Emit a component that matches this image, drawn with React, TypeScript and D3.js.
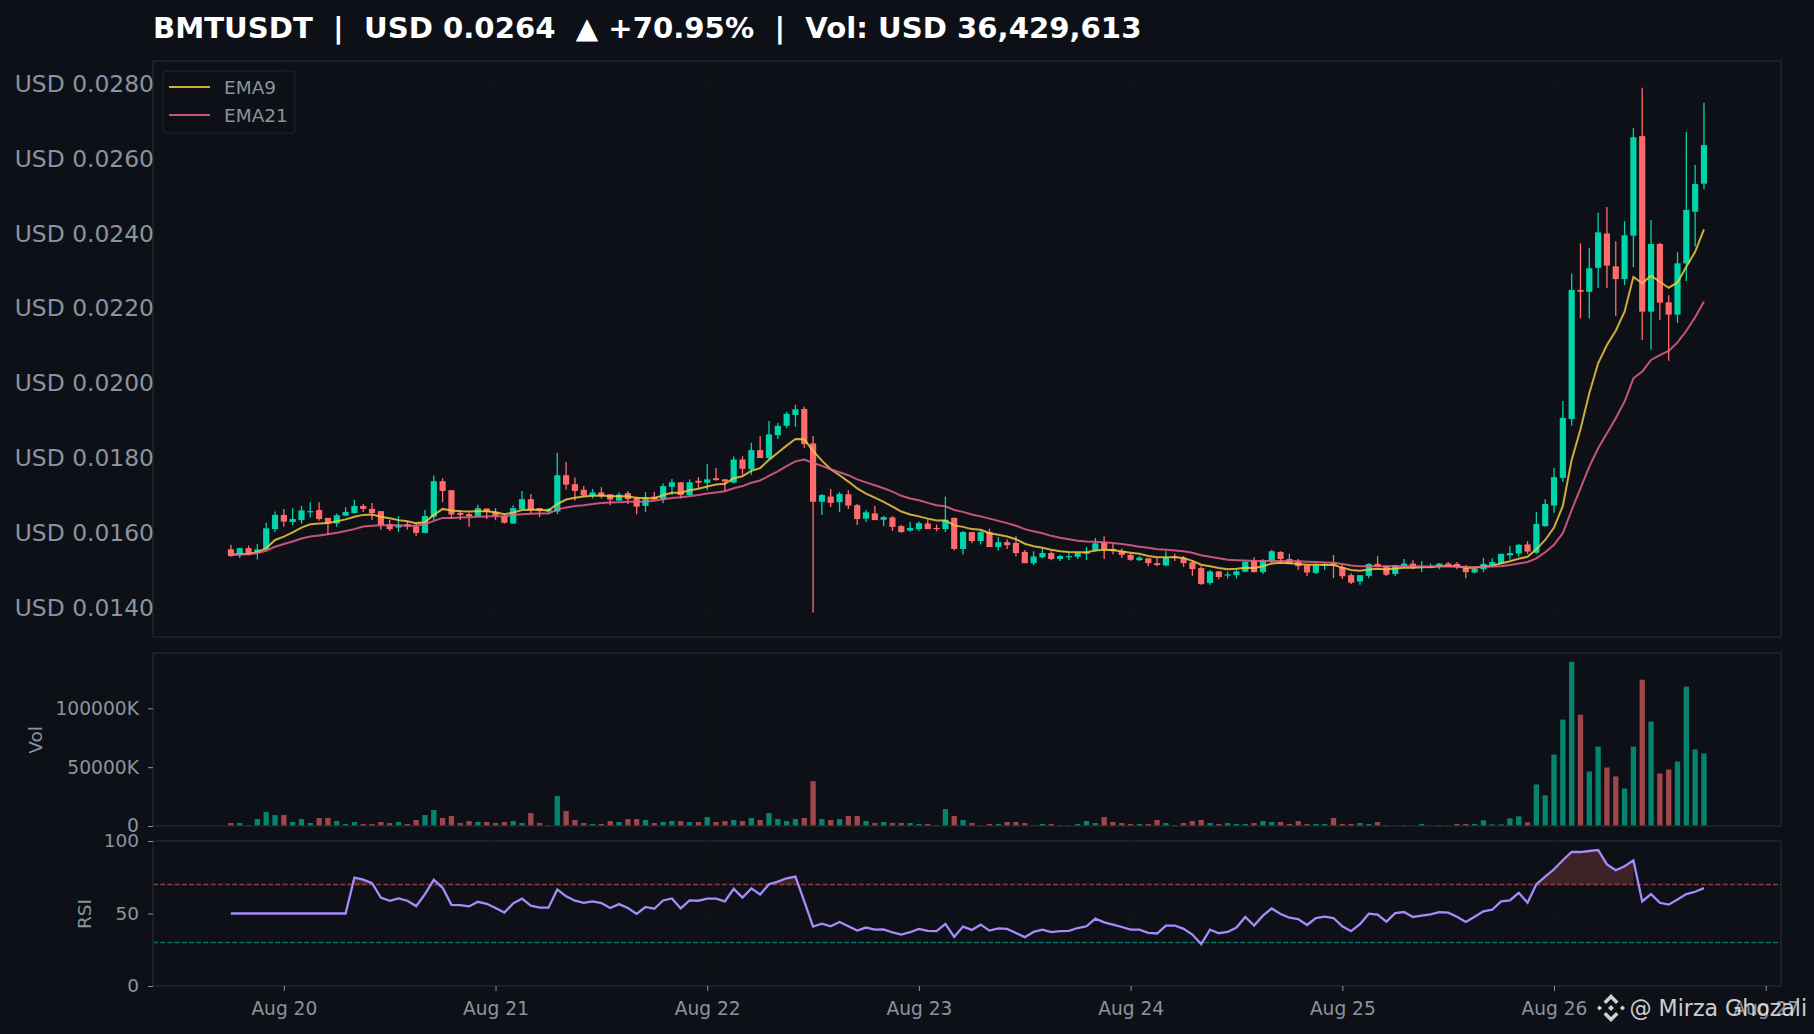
import { useEffect, useRef } from "react";
import * as d3 from "d3";

const FONT = "DejaVu Sans";
const BG = "#0d1117";
const SPINE = "#21262d";
const GRID = "#12171e";
const MUTED = "#8b949e";
const UP = "#00d4aa";
const DOWN = "#ff6b6b";

// first candle is Aug 19 18:00, one candle per hour
const START = Date.UTC(2025, 7, 19, 18);
const HOUR = 3600000;

const dayTicks = ["2025-08-20", "2025-08-21", "2025-08-22", "2025-08-23", "2025-08-24", "2025-08-25", "2025-08-26", "2025-08-27"];
const priceTicks = [0.014, 0.016, 0.018, 0.02, 0.022, 0.024, 0.026, 0.028];
const volTicks = [0, 50000, 100000];
const rsiTicks = [0, 50, 100];

// prices, in 1e-5 USD
const opens = [
  1558,1543,1561,1549,1559,1612,1650,1631,1636,1658,
  1663,1642,1627,1648,1655,1674,1666,1660,1625,1616,
  1625,1619,1602,1645,1740,1716,1655,1652,1647,1667,
  1658,1647,1627,1665,1692,1668,1659,1659,1756,1732,
  1717,1703,1710,1705,1688,1708,1694,1674,1699,1692,
  1725,1737,1703,1741,1736,1748,1745,1736,1798,1772,
  1823,1802,1863,1888,1917,1933,1841,1685,1699,1684,
  1705,1676,1640,1654,1637,1643,1620,1608,1612,1627,
  1615,1612,1642,1559,1604,1580,1604,1564,1577,1575,
  1551,1521,1537,1548,1532,1538,1538,1546,1556,1576,
  1559,1554,1543,1529,1534,1521,1515,1540,1535,1523,
  1508,1468,1499,1488,1489,1498,1527,1497,1527,1551,
  1532,1527,1515,1495,1516,1521,1510,1489,1472,1487,
  1519,1513,1492,1513,1520,1509,1508,1513,1520,1519,
  1511,1496,1505,1516,1521,1542,1547,1571,1549,1620,
  1675,1749,1906,2251,2246,2310,2402,2314,2280,2396,
  2662,2193,2374,2218,2185,2322,2460,2535,
];
const closes = [
  1540,1561,1545,1558,1614,1650,1632,1639,1662,1660,
  1639,1627,1649,1658,1674,1666,1655,1623,1612,1621,
  1619,1602,1647,1740,1714,1651,1650,1647,1668,1658,
  1648,1629,1668,1692,1663,1660,1665,1756,1731,1714,
  1702,1710,1701,1691,1704,1692,1672,1694,1692,1727,
  1737,1703,1737,1736,1745,1743,1739,1798,1773,1823,
  1802,1865,1888,1920,1932,1839,1685,1703,1682,1706,
  1675,1639,1657,1636,1644,1618,1604,1615,1628,1612,
  1612,1637,1559,1604,1580,1604,1564,1577,1569,1548,
  1521,1539,1548,1532,1540,1540,1548,1551,1574,1559,
  1553,1543,1530,1536,1521,1516,1536,1536,1521,1505,
  1465,1499,1484,1491,1499,1525,1497,1527,1553,1532,
  1519,1513,1496,1516,1519,1516,1486,1469,1489,1519,
  1511,1490,1515,1520,1508,1511,1511,1520,1513,1510,
  1497,1506,1519,1524,1546,1548,1570,1552,1626,1679,
  1751,1909,2251,2246,2309,2405,2316,2280,2397,2659,
  2193,2374,2217,2185,2322,2465,2534,2638,
];
const highs = [
  1570,1562,1568,1572,1629,1659,1666,1668,1674,1684,
  1684,1642,1654,1670,1690,1679,1682,1660,1636,1647,
  1632,1627,1663,1755,1748,1716,1663,1656,1677,1668,
  1668,1650,1676,1714,1706,1668,1668,1816,1791,1750,
  1727,1719,1724,1705,1710,1714,1699,1711,1711,1734,
  1746,1737,1745,1751,1786,1775,1745,1807,1807,1843,
  1861,1901,1896,1925,1944,1939,1861,1706,1719,1711,
  1716,1679,1663,1674,1647,1647,1623,1631,1632,1638,
  1624,1699,1643,1607,1604,1607,1613,1591,1585,1593,
  1556,1553,1559,1553,1543,1549,1552,1564,1588,1593,
  1572,1560,1547,1540,1534,1535,1553,1546,1540,1529,
  1513,1503,1500,1499,1507,1525,1537,1532,1557,1553,
  1546,1532,1517,1521,1522,1543,1516,1494,1489,1521,
  1540,1516,1517,1532,1529,1527,1520,1521,1524,1524,
  1516,1508,1535,1534,1546,1567,1572,1580,1658,1692,
  1775,1954,2294,2376,2363,2457,2473,2381,2435,2684,
  2791,2438,2377,2237,2352,2673,2585,2751,
];
const lows = [
  1538,1535,1542,1531,1556,1604,1618,1623,1627,1643,
  1634,1596,1618,1647,1654,1658,1636,1610,1607,1604,
  1611,1593,1601,1636,1684,1639,1636,1618,1645,1639,
  1636,1627,1626,1665,1652,1644,1656,1652,1718,1688,
  1699,1694,1694,1676,1688,1679,1652,1658,1690,1681,
  1703,1694,1701,1722,1716,1741,1714,1734,1757,1757,
  1802,1800,1853,1882,1885,1829,1389,1650,1671,1658,
  1666,1623,1631,1636,1620,1607,1602,1605,1607,1612,
  1606,1604,1555,1544,1574,1571,1564,1555,1559,1539,
  1521,1516,1534,1529,1527,1529,1532,1529,1552,1532,
  1545,1535,1527,1527,1513,1513,1513,1527,1511,1487,
  1463,1463,1478,1480,1480,1498,1497,1492,1521,1519,
  1519,1503,1487,1492,1503,1481,1479,1465,1463,1481,
  1511,1487,1487,1508,1505,1497,1508,1505,1513,1505,
  1481,1494,1497,1512,1520,1530,1538,1546,1546,1619,
  1656,1738,1888,2175,2175,2256,2256,2181,2264,2312,
  2117,2091,2171,2062,2163,2275,2367,2521,
];
const ema9 = [
  1544,1545,1546,1550,1561,1583,1592,1603,1616,1625,
  1627,1628,1633,1638,1645,1650,1651,1645,1641,1636,
  1633,1628,1630,1650,1666,1662,1660,1659,1660,1660,
  1657,1652,1656,1663,1664,1664,1662,1679,1691,1696,
  1699,1701,1702,1700,1700,1700,1695,1695,1694,1703,
  1709,1709,1716,1720,1726,1731,1733,1748,1753,1768,
  1775,1797,1816,1835,1853,1852,1821,1795,1772,1756,
  1739,1721,1707,1696,1685,1672,1659,1651,1646,1640,
  1635,1635,1622,1618,1612,1610,1601,1597,1592,1585,
  1573,1566,1562,1557,1553,1551,1550,1550,1555,1557,
  1556,1552,1549,1546,1540,1537,1537,1537,1535,1527,
  1517,1513,1508,1505,1506,1509,1508,1513,1520,1522,
  1521,1519,1517,1517,1516,1516,1509,1503,1501,1504,
  1506,1504,1507,1509,1509,1510,1511,1513,1513,1513,
  1509,1509,1512,1514,1520,1526,1533,1538,1558,1583,
  1616,1674,1797,1879,1975,2055,2104,2142,2193,2286,
  2269,2289,2273,2257,2271,2313,2353,2413,
];
const ema21 = [
  1544,1544,1545,1548,1554,1565,1572,1579,1587,1592,
  1595,1598,1602,1607,1612,1619,1621,1622,1622,1622,
  1621,1621,1625,1634,1642,1642,1643,1644,1645,1646,
  1647,1646,1650,1652,1653,1654,1654,1664,1670,1674,
  1676,1679,1682,1683,1684,1685,1685,1686,1688,1692,
  1695,1697,1700,1703,1707,1710,1713,1721,1727,1736,
  1742,1754,1766,1780,1793,1798,1789,1781,1772,1764,
  1756,1745,1737,1729,1721,1712,1701,1694,1689,1682,
  1676,1673,1663,1658,1651,1646,1640,1634,1628,1621,
  1612,1606,1601,1594,1589,1585,1581,1579,1578,1577,
  1575,1572,1569,1565,1562,1558,1557,1555,1553,1549,
  1542,1538,1534,1530,1529,1528,1527,1527,1527,1527,
  1527,1526,1525,1524,1523,1522,1519,1515,1513,1513,
  1513,1513,1513,1513,1513,1512,1512,1513,1513,1512,
  1511,1510,1511,1512,1513,1516,1520,1524,1534,1550,
  1570,1601,1663,1721,1779,1828,1868,1908,1953,2015,
  2033,2064,2077,2088,2111,2142,2178,2220,
];
// volume in thousands
const volumes = [
  2500,2500,850,5900,11900,9300,9300,3400,5900,2500,
  6800,6800,4200,1700,3400,1700,1700,3400,2500,3400,
  1700,5100,9300,13600,6800,8500,2500,4200,3400,3400,
  2500,3400,4200,2500,11000,2500,850,25400,12700,5100,
  2500,1700,1700,4200,3400,5900,5900,5100,2500,3400,
  4200,4200,3400,3400,7600,3400,4200,5100,4200,6800,
  5100,11000,5900,4200,5900,6800,38100,5900,5100,5900,
  8500,8500,4200,2500,3400,2500,2500,2500,1700,1700,
  850,14400,8500,5100,2500,850,1700,1700,3400,3400,
  2500,850,1700,1700,850,850,1700,4200,2500,7600,
  3400,2500,1700,1700,1700,5100,2500,850,2500,4200,
  5100,2500,1700,2500,1700,1700,2500,4200,3400,3400,
  1700,4200,1700,1700,1700,6800,1700,1700,2500,1700,
  3400,850,300,850,300,1700,300,850,300,1700,
  1700,1700,4800,1400,1400,6500,8200,3100,35300,26000,
  60700,90400,139500,94600,46300,67500,49700,42100,31900,67500,
  124300,88700,44600,48000,54800,118400,65000,61600,
];
const rsi = [
  50,50,50,50,50,50,50,50,50,50,
  50,50,50,50,74.8,73.4,70.9,61,58.8,60.4,
  58.8,55.1,63.4,73.2,67.7,56,55.8,54.9,58.1,56.7,
  53.8,50.6,57,60.2,55.4,54,54,66.6,61.8,58.8,
  57.4,58.3,57.2,53.8,56.5,53.8,49.7,54.5,53.3,59,
  60.4,53.5,59,58.8,60.2,60.2,58.3,67,61,67.3,
  63.1,70.2,72,74.3,75.5,58.3,41,43,41.2,44.2,
  41.2,38.2,40.3,38.9,39.1,36.9,35.5,37.1,39.4,38,
  37.8,42.8,33.9,41,38.7,42.3,38.2,39.8,39.4,36.6,
  33.7,37.3,38.9,37.1,37.8,38,40,41.2,46.5,43.9,
  42.3,40.7,38.9,38.9,36.6,36.2,41.7,41.7,39.4,35.5,
  28.9,38.9,36.4,37.3,40.3,47.6,41.7,48.5,53.5,49.7,
  47.1,46.2,42.1,46.9,47.8,46.9,41.2,37.8,42.6,49.9,
  49.2,44.4,50.3,51,47.6,48.5,49.4,51,50.6,47.8,
  44.2,47.8,51.5,52.6,58.3,59,64.3,57.4,70.2,75.5,
  80.5,86.7,92.4,92.4,93.1,93.8,83.9,79.8,82.6,86.7,
  58.3,63.4,57.4,56.1,59.7,63.4,65,67.5,
];

const App = () => {
  const svgRef = useRef<SVGSVGElement | null>(null);

  useEffect(() => {
    drawChart();
  }, []);

  const drawChart = () => {
    const svg = d3.select(svgRef.current);
    svg.selectAll("*").remove();

    const left = 153;
    const right = 1781;
    const main = { top: 61, bottom: 637 };
    const vol = { top: 653, bottom: 826 };
    const osc = { top: 841, bottom: 986 };

    const time = (i: number) => new Date(START + i * HOUR);

    const x = d3
      .scaleUtc()
      .domain([new Date(Date.UTC(2025, 7, 19, 9, 10)), new Date(Date.UTC(2025, 7, 27, 1, 44))])
      .range([left, right]);
    const yPrice = d3.scaleLinear().domain([0.013237, 0.028628]).range([main.bottom, main.top]);
    const yVol = d3.scaleLinear().domain([0, 147000]).range([vol.bottom, vol.top]);
    const yRsi = d3.scaleLinear().domain([0, 100]).range([osc.bottom, osc.top]);

    const bodyW = x(time(0.7)) - x(time(0));
    const barW = x(time(0.6)) - x(time(0));
    const idx = d3.range(opens.length);
    const P = (v: number) => yPrice(v / 1e5);

    svg.append("rect").attr("width", 1814).attr("height", 1034).attr("fill", BG);

    // panel frames and the faint grid
    const days = dayTicks.map((d) => new Date(d + "T00:00:00Z"));
    [main, vol, osc].forEach((p) => {
      svg
        .append("g")
        .selectAll("line")
        .data(days)
        .join("line")
        .attr("x1", (d) => x(d))
        .attr("x2", (d) => x(d))
        .attr("y1", p.top)
        .attr("y2", p.bottom)
        .attr("stroke", GRID)
        .attr("stroke-width", 0.8);
    });
    const hGrid = (ticks: number[], y: any) =>
      svg
        .append("g")
        .selectAll("line")
        .data(ticks)
        .join("line")
        .attr("x1", left)
        .attr("x2", right)
        .attr("y1", (d) => y(d))
        .attr("y2", (d) => y(d))
        .attr("stroke", GRID)
        .attr("stroke-width", 0.8);
    hGrid(priceTicks, yPrice);
    hGrid(volTicks, yVol);
    hGrid(rsiTicks, yRsi);

    // candles
    const candles = svg.append("g");
    candles
      .selectAll("line")
      .data(idx)
      .join("line")
      .attr("x1", (i) => x(time(i)))
      .attr("x2", (i) => x(time(i)))
      .attr("y1", (i) => P(highs[i]))
      .attr("y2", (i) => P(lows[i]))
      .attr("stroke", (i) => (closes[i] >= opens[i] ? UP : DOWN))
      .attr("stroke-width", 1.3);
    candles
      .selectAll("rect")
      .data(idx)
      .join("rect")
      .attr("x", (i) => x(time(i)) - bodyW / 2)
      .attr("width", bodyW)
      .attr("y", (i) => P(Math.max(opens[i], closes[i])))
      .attr("height", (i) => Math.max(1.2, Math.abs(P(opens[i]) - P(closes[i]))))
      .attr("fill", (i) => (closes[i] >= opens[i] ? UP : DOWN));

    // moving averages
    const emaLine = d3
      .line<number>()
      .x((_, i) => x(time(i)))
      .y((d) => P(d));
    svg
      .append("path")
      .attr("d", emaLine(ema9))
      .attr("fill", "none")
      .attr("stroke", "#f0c93f")
      .attr("stroke-opacity", 0.85)
      .attr("stroke-width", 2);
    svg
      .append("path")
      .attr("d", emaLine(ema21))
      .attr("fill", "none")
      .attr("stroke", "#e8608c")
      .attr("stroke-opacity", 0.85)
      .attr("stroke-width", 2);

    // volume bars
    svg
      .append("g")
      .selectAll("rect")
      .data(idx)
      .join("rect")
      .attr("x", (i) => x(time(i)) - barW / 2)
      .attr("width", barW)
      .attr("y", (i) => yVol(volumes[i]))
      .attr("height", (i) => vol.bottom - yVol(volumes[i]))
      .attr("fill", (i) => (closes[i] >= opens[i] ? UP : DOWN))
      .attr("fill-opacity", 0.6);

    // rsi
    const overbought = d3
      .area<number>()
      .defined((d) => d > 70)
      .x((_, i) => x(time(i)))
      .y0(yRsi(70))
      .y1((d) => yRsi(d));
    svg.append("path").attr("d", overbought(rsi)).attr("fill", DOWN).attr("fill-opacity", 0.2);
    [
      { level: 70, color: DOWN },
      { level: 30, color: UP },
    ].forEach(({ level, color }) => {
      svg
        .append("line")
        .attr("x1", left)
        .attr("x2", right)
        .attr("y1", yRsi(level))
        .attr("y2", yRsi(level))
        .attr("stroke", color)
        .attr("stroke-opacity", 0.5)
        .attr("stroke-width", 1.5)
        .attr("stroke-dasharray", "5 2.2");
    });
    const rsiLine = d3
      .line<number>()
      .x((_, i) => x(time(i)))
      .y((d) => yRsi(d));
    svg
      .append("path")
      .attr("d", rsiLine(rsi))
      .attr("fill", "none")
      .attr("stroke", "#a78bfa")
      .attr("stroke-width", 2.3);

    // frames go over the marks
    [main, vol, osc].forEach((p) => {
      svg
        .append("rect")
        .attr("x", left)
        .attr("y", p.top)
        .attr("width", right - left)
        .attr("height", p.bottom - p.top)
        .attr("fill", "none")
        .attr("stroke", SPINE)
        .attr("stroke-width", 1.4);
    });

    // axes
    const styleAxis = (g: any, size: number) => {
      g.select(".domain").remove();
      g.selectAll("line").attr("stroke", MUTED);
      g.selectAll("text").attr("fill", MUTED).attr("font-family", FONT).attr("font-size", size);
    };
    svg
      .append("g")
      .attr("transform", `translate(${left},-0.7)`)
      .call(
        d3
          .axisLeft(yPrice)
          .tickValues(priceTicks)
          .tickSize(0)
          .tickPadding(-1)
          .tickFormat((d: any) => `USD ${d.toFixed(4)}`) as any
      )
      .call((g: any) => styleAxis(g, 23.4));
    svg
      .append("g")
      .attr("transform", `translate(${left},0)`)
      .call(
        d3
          .axisLeft(yVol)
          .tickValues(volTicks)
          .tickSize(5)
          .tickPadding(9)
          .tickFormat((d: any) => (d === 0 ? "0" : `${d}K`)) as any
      )
      .call((g: any) => styleAxis(g, 18.7));
    svg
      .append("g")
      .attr("transform", `translate(${left},0)`)
      .call(d3.axisLeft(yRsi).tickValues(rsiTicks).tickSize(5).tickPadding(9) as any)
      .call((g: any) => styleAxis(g, 18.5));
    svg
      .append("g")
      .attr("transform", `translate(0,${osc.bottom})`)
      .call(
        d3
          .axisBottom(x)
          .tickValues(days)
          .tickSize(5)
          .tickPadding(11)
          .tickFormat(d3.utcFormat("%b %d") as any) as any
      )
      .call((g: any) => styleAxis(g, 18.6));

    // axis titles
    const yTitle = (label: string, px: number, py: number) =>
      svg
        .append("text")
        .attr("transform", `translate(${px},${py}) rotate(-90)`)
        .attr("text-anchor", "middle")
        .attr("dominant-baseline", "central")
        .attr("font-family", FONT)
        .attr("font-size", 18.5)
        .attr("fill", MUTED)
        .text(label);
    yTitle("Vol", 35, 740);
    yTitle("RSI", 84, 914);

    // legend
    const legend = svg.append("g");
    legend
      .append("rect")
      .attr("x", 163)
      .attr("y", 71)
      .attr("width", 132)
      .attr("height", 62)
      .attr("rx", 3)
      .attr("fill", BG)
      .attr("stroke", SPINE)
      .attr("stroke-width", 1);
    [
      { name: "EMA9", color: "#f0c93f", yy: 87 },
      { name: "EMA21", color: "#e8608c", yy: 115 },
    ].forEach(({ name, color, yy }) => {
      legend
        .append("line")
        .attr("x1", 169)
        .attr("x2", 210)
        .attr("y1", yy)
        .attr("y2", yy)
        .attr("stroke", color)
        .attr("stroke-opacity", 0.85)
        .attr("stroke-width", 2);
      legend
        .append("text")
        .attr("x", 224)
        .attr("y", yy)
        .attr("dominant-baseline", "central")
        .attr("font-family", FONT)
        .attr("font-size", 18.5)
        .attr("fill", MUTED)
        .text(name);
    });

    // title, the double spaces are in the original
    svg
      .append("text")
      .attr("x", 153)
      .attr("y", 28)
      .attr("dominant-baseline", "central")
      .attr("font-family", FONT)
      .attr("font-weight", "bold")
      .attr("font-size", 29.15)
      .attr("fill", "#ffffff")
      .style("white-space", "pre")
      .text("BMTUSDT  |  USD 0.0264  ▲ +70.95%  |  Vol: USD 36,429,613");

    // watermark
    const mark = svg.append("g").attr("transform", "translate(1611,1008)").attr("fill", "#e6e6e6").attr("opacity", 0.9);
    [
      "M0,-14 L7.5,-6.5 L5,-4 L0,-9 L-5,-4 L-7.5,-6.5 Z",
      "M0,14 L7.5,6.5 L5,4 L0,9 L-5,4 L-7.5,6.5 Z",
      "M-14,0 L-11.5,-2.5 L-9,0 L-11.5,2.5 Z",
      "M14,0 L11.5,-2.5 L9,0 L11.5,2.5 Z",
      "M0,-3 L3,0 L0,3 L-3,0 Z",
    ].forEach((d) => mark.append("path").attr("d", d));
    svg
      .append("text")
      .attr("x", 1629.5)
      .attr("y", 1008)
      .attr("dominant-baseline", "central")
      .attr("font-family", FONT)
      .attr("font-size", 22.1)
      .attr("fill", "#e6e6e6")
      .attr("fill-opacity", 0.9)
      .text("@ Mirza Ghozali");
  };

  return <svg ref={svgRef} width={1814} height={1034} style={{ position: "absolute", left: 0, top: 0 }}></svg>;
};

export default App;
